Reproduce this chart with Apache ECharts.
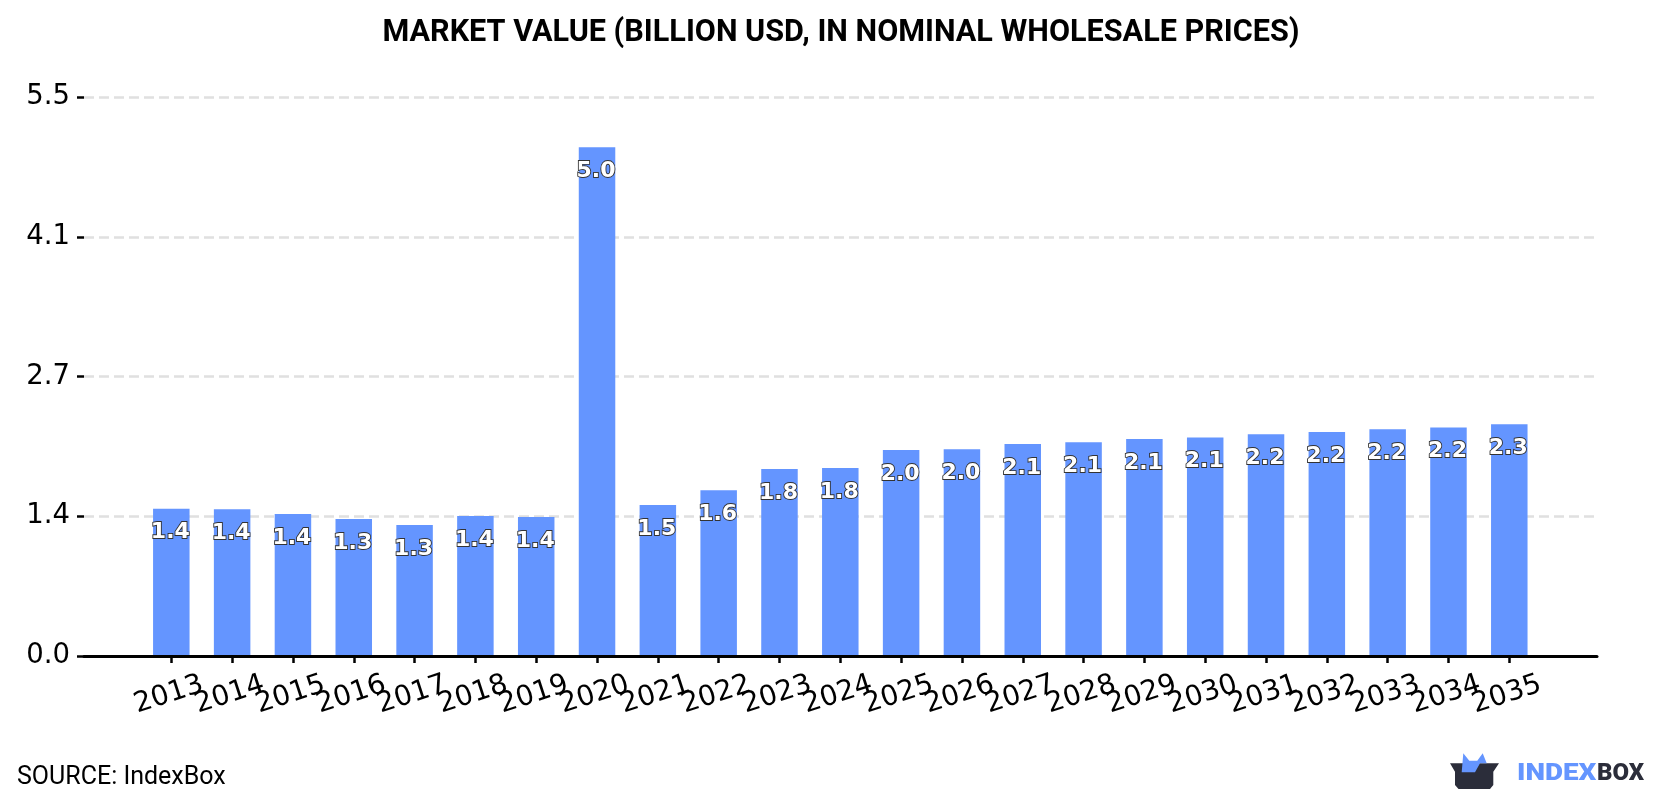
<!DOCTYPE html>
<html>
<head>
<meta charset="utf-8">
<title>Market value</title>
<style>html,body{margin:0;padding:0;background:#fff}#chart{width:1680px;height:800px}</style>
<script src="https://cdn.jsdelivr.net/npm/echarts@6/dist/echarts.min.js"></script>
</head>
<body>
<div id="chart"></div>
<script>
// Years and market value in billion USD
const categories = ['2013','2014','2015','2016','2017','2018','2019','2020','2021','2022','2023','2024','2025','2026','2027','2028','2029','2030','2031','2032','2033','2034','2035'];
const marketValues = [1.449,1.445,1.396,1.349,1.288,1.377,1.367,5.005,1.485,1.632,1.839,1.849,2.026,2.035,2.085,2.104,2.134,2.149,2.183,2.203,2.232,2.249,2.281];
const yTickValues = [0,1.375,2.75,4.125,5.5];
const yTickLabels = ['0.0','1.4','2.7','4.1','5.5'];
const yMax = 5.5;
const yStep = 1.375;

const BLUE = '#6495ff';
const DARK = '#2b2d3a';
const chart = echarts.init(document.getElementById('chart'), null, {renderer:'canvas'});

chart.setOption({
  animation:false,
  backgroundColor:'#fff',
  title:{
    text:'MARKET VALUE (BILLION USD, IN NOMINAL WHOLESALE PRICES)',
    left:836, top:13, textAlign:'center',
    textStyle:{fontFamily:'Roboto',fontWeight:'bold',fontSize:30.6,color:'#000'}
  },
  // Grid 0 holds the bars; grid 1 is wider and carries the y axis, rules and baseline
  grid:[
    {left:140.9,width:1398.8,top:97,height:559},
    {left:84,width:1513,top:97,height:559}
  ],
  xAxis:[
    {type:'category',gridIndex:0,data:categories,
      axisLine:{show:false},
      axisTick:{show:true,alignWithLabel:true,length:7,lineStyle:{color:'#000',width:2.5}},
      axisLabel:{interval:0,hideOverlap:false,rotate:18,align:'center',verticalAlign:'middle',margin:38,
        padding:[0,5,0,0],fontFamily:'DejaVu Sans',fontSize:28,color:'#000'},
      z:5},
    {type:'category',gridIndex:1,data:categories,
      axisLine:{show:true,lineStyle:{color:'#000',width:3}},
      axisTick:{show:false},axisLabel:{show:false},z:4}
  ],
  yAxis:[
    {type:'value',gridIndex:0,min:0,max:yMax,interval:yStep,show:false,splitLine:{show:false}},
    {type:'value',gridIndex:1,min:0,max:yMax,interval:yStep,
      axisLine:{show:false},
      axisTick:{show:true,length:7,lineStyle:{color:'#000',width:2.5}},
      axisLabel:{margin:14,padding:[4,0,0,0],fontFamily:'DejaVu Sans',fontSize:27.5,color:'#000',
        formatter:v=>yTickLabels[yTickValues.indexOf(v)]},
      splitLine:{show:true,lineStyle:{color:'#e0e0e0',width:2.5,type:[10,5]}}}
  ],
  series:[{
    type:'bar',xAxisIndex:0,yAxisIndex:0,data:marketValues,barWidth:36.5,
    itemStyle:{color:BLUE},
    label:{show:true,position:'insideTop',distance:13,offset:[-1,0],
      formatter:p=>p.value.toFixed(1),
      fontFamily:'DejaVu Sans',fontWeight:'bold',fontSize:22,color:'#fff',
      textBorderColor:'#333',textBorderWidth:1.8},
    z:3
  }],
  graphic:[
    {type:'text',left:17,top:765,style:{text:'SOURCE: IndexBox',fontFamily:'Roboto',fontSize:25,fill:'#000'}},
    // Logo: open box with a blue cat peeking out, then the wordmark
    {type:'polygon',silent:true,shape:{points:[[1450,763.3],[1499,763.3],[1493.3,771.7],[1493.3,785],[1490,789],[1458.5,789],[1455,785],[1455,771.7]]},style:{fill:DARK}},
    {type:'polygon',silent:true,shape:{points:[[1463.3,753.3],[1469.3,760.7],[1477.3,760.7],[1482.7,753.3],[1486.7,763.3],[1480,763.3],[1475,772.3],[1461.7,772.3]]},style:{fill:BLUE}},
    {type:'text',x:1517,y:762,scaleX:1.16,style:{text:'INDEX',fontFamily:'Roboto',fontWeight:900,fontSize:24,fill:BLUE}},
    {type:'text',x:1597,y:762,style:{text:'BOX',fontFamily:'Roboto',fontWeight:900,fontSize:24,fill:DARK}}
  ]
});
</script>
</body>
</html>
